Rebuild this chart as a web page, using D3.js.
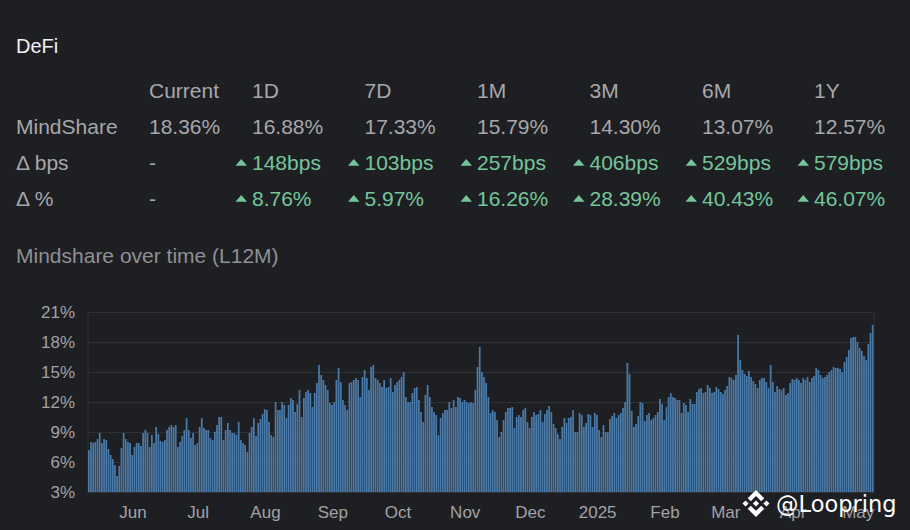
<!DOCTYPE html>
<html>
<head>
<meta charset="utf-8">
<script src="https://cdn.jsdelivr.net/npm/d3@7"></script>
<style>
  html, body { margin: 0; padding: 0; background: #1e1f23; }
  svg { display: block; font-family: "Liberation Sans", Arial, sans-serif; }
</style>
</head>
<body>
<svg></svg>
<script>
// summary table
const periods   = ["Current", "1D", "7D", "1M", "3M", "6M", "1Y"];
const mindshare = [18.36, 16.88, 17.33, 15.79, 14.30, 13.07, 12.57];
const deltaBps  = [null, 148, 103, 257, 406, 529, 579];
const deltaPct  = [null, 8.76, 5.97, 16.26, 28.39, 40.43, 46.07];

// daily mindshare (%), first day 2024-05-12
const firstDay = "2024-05-12";
const may24 = [7.2, 8.0, 7.9, 8.0, 8.3, 8.9, 7.9, 8.3, 8.2, 7.3, 6.7, 6.3, 5.7, 4.6, 5.6, 7.4, 8.9, 8.3, 8.0, 7.9];
const jun24 = [6.7, 7.5, 7.9, 7.9, 7.6, 8.9, 9.2, 8.9, 7.5, 8.7, 7.9, 9.5, 8.8, 8.1, 8.0, 8.2, 9.2, 9.5, 9.7, 9.5,
               9.7, 7.5, 8.0, 8.6, 9.2, 10.4, 9.2, 8.4, 8.9, 7.7];
const jul24 = [7.9, 9.5, 10.4, 9.4, 9.2, 9.2, 8.4, 8.2, 9.0, 9.7, 10.5, 10.5, 8.2, 9.2, 9.9, 9.2, 8.9, 8.9, 8.7, 10.0,
               8.2, 7.9, 7.7, 7.0, 8.9, 9.5, 10.4, 8.6, 9.9, 10.3, 10.8];
const aug24 = [11.3, 11.2, 10.0, 8.7, 8.5, 12.0, 11.2, 11.2, 12.0, 11.7, 10.4, 11.7, 12.4, 12.2, 11.0, 11.8, 13.2, 10.5, 12.4, 13.0,
               13.2, 12.9, 11.5, 12.9, 13.9, 15.7, 14.7, 14.2, 13.7, 13.2, 11.9];
const sep24 = [11.7, 12.0, 14.2, 15.4, 14.0, 12.2, 11.7, 11.2, 13.9, 14.0, 14.2, 14.4, 14.2, 12.5, 14.5, 15.2, 14.4, 13.2, 15.5, 15.7,
               14.4, 14.2, 13.9, 13.5, 14.2, 13.4, 13.5, 14.4, 13.0, 13.7];
const oct24 = [14.0, 14.2, 14.5, 15.0, 12.5, 12.0, 12.0, 12.9, 13.4, 13.5, 12.2, 11.0, 10.0, 12.7, 13.7, 12.5, 11.5, 11.0, 10.7, 8.7,
               10.4, 10.9, 11.2, 11.2, 12.0, 11.4, 12.2, 11.5, 12.5, 12.4, 12.0];
const nov24 = [12.2, 12.0, 11.9, 12.0, 11.9, 13.2, 15.5, 17.5, 15.0, 14.5, 13.9, 12.5, 10.9, 11.2, 11.0, 10.2, 8.5, 9.0, 10.2, 11.0,
               11.4, 11.4, 11.5, 9.4, 10.5, 10.7, 10.5, 11.2, 11.4, 10.0];
const dec24 = [9.4, 10.5, 11.0, 10.7, 10.8, 11.2, 10.0, 10.8, 11.2, 11.6, 11.0, 9.8, 9.4, 8.8, 8.3, 9.5, 10.4, 9.9, 10.4, 10.5,
               11.2, 9.0, 9.0, 10.9, 10.7, 9.5, 9.9, 10.8, 10.7, 9.5, 10.9];
const jan25 = [10.7, 9.2, 8.5, 9.7, 9.0, 9.0, 10.3, 10.6, 10.9, 10.4, 10.7, 10.9, 11.4, 12.0, 15.9, 14.8, 11.1, 9.5, 9.8, 10.6,
               12.0, 11.9, 10.1, 10.7, 10.9, 10.2, 10.4, 10.7, 11.0, 12.3, 11.8];
const feb25 = [10.2, 11.5, 12.5, 12.9, 12.5, 12.4, 12.2, 12.2, 10.9, 11.9, 11.7, 11.0, 12.3, 11.8, 11.8, 13.0, 13.3, 13.4, 12.9, 13.0,
               13.7, 13.4, 12.9, 13.0, 13.5, 13.3, 13.0, 12.8];
const mar25 = [13.2, 13.6, 14.5, 14.4, 14.2, 14.7, 18.7, 16.2, 15.2, 14.8, 14.6, 15.1, 14.5, 14.1, 13.8, 13.4, 14.2, 14.4, 14.4, 14.0,
               13.4, 15.7, 14.0, 13.0, 13.6, 13.3, 13.2, 13.4, 12.7, 12.9, 13.9];
const apr25 = [14.3, 14.2, 14.4, 14.2, 13.9, 14.4, 14.2, 14.5, 14.0, 14.4, 14.6, 15.4, 15.2, 14.7, 14.4, 14.5, 14.7, 15.0, 15.2, 15.5,
               15.4, 15.4, 15.3, 15.0, 16.0, 16.5, 17.2, 18.4, 18.5, 18.5];
const may25 = [18.0, 17.4, 17.1, 16.6, 16.2, 17.8, 18.9, 19.7];

const yTicks = [3, 6, 9, 12, 15, 18, 21];

const W = 910, H = 530;
const svg = d3.select("svg").attr("width", W).attr("height", H);

svg.append("rect").attr("width", W).attr("height", H).attr("fill", "#1e1f23");

// ---- header + table
const grey = "#a7a7ab", green = "#74c69a";

svg.append("text")
  .attr("x", 16).attr("y", 52.5)
  .attr("fill", "#f2f2f2").attr("font-size", 20)
  .text("DeFi");

const colX = [149, 252, 364.5, 477, 589.5, 702, 814];
const rowY = { head: 98.3, ms: 134.3, bps: 170.3, pct: 206.3 };

const rowLabels = [["MindShare", rowY.ms], ["Δ bps", rowY.bps], ["Δ %", rowY.pct]];
svg.selectAll("text.rowlab").data(rowLabels).enter().append("text")
  .attr("class", "rowlab")
  .attr("x", 16).attr("y", d => d[1])
  .attr("fill", grey).attr("font-size", 21)
  .text(d => d[0]);

const table = svg.append("g").attr("font-size", 21);

table.selectAll("text.head").data(periods).enter().append("text")
  .attr("class", "head")
  .attr("x", (d, i) => colX[i]).attr("y", rowY.head)
  .attr("fill", grey)
  .text(d => d);

table.selectAll("text.ms").data(mindshare).enter().append("text")
  .attr("class", "ms")
  .attr("x", (d, i) => colX[i]).attr("y", rowY.ms)
  .attr("fill", grey)
  .text(d => d.toFixed(2) + "%");

function deltaRow(values, y, fmt) {
  const g = table.append("g");
  values.forEach((v, i) => {
    const x = colX[i];
    if (v == null) {
      g.append("text").attr("x", x).attr("y", y).attr("fill", grey).text("-");
      return;
    }
    const base = y - 4.6;
    g.append("path")
      .attr("d", `M${x - 16.5},${base}L${x - 5},${base}L${x - 10.75},${base - 6.6}Z`)
      .attr("fill", green);
    g.append("text").attr("x", x).attr("y", y).attr("fill", green).text(fmt(v));
  });
}
deltaRow(deltaBps, rowY.bps, v => `${v}bps`);
deltaRow(deltaPct, rowY.pct, v => `${v.toFixed(2)}%`);

svg.append("text")
  .attr("x", 16).attr("y", 262.5)
  .attr("fill", "#8f8f94").attr("font-size", 21)
  .text("Mindshare over time (L12M)");

// ---- bar chart
const parse = d3.timeParse("%Y-%m-%d");
const daily = [].concat(may24, jun24, jul24, aug24, sep24, oct24, nov24, dec24, jan25, feb25, mar25, apr25, may25);
const start = parse(firstDay);
const data = daily.map((v, i) => ({ date: d3.timeDay.offset(start, i), value: v }));

const plot = { left: 88, right: 874, top: 312, bottom: 492 };

const x = d3.scaleTime()
  .domain([start, d3.timeDay.offset(start, data.length)])
  .range([plot.left, plot.right]);
const y = d3.scaleLinear()
  .domain([3, 21])
  .range([plot.bottom, plot.top]);

const step = (plot.right - plot.left) / data.length;

const yAxis = d3.axisLeft(y)
  .tickValues(yTicks)
  .tickSize(-(plot.right - plot.left))
  .tickPadding(13)
  .tickFormat(d => d + "%");
const yAxisG = svg.append("g")
  .attr("transform", `translate(${plot.left},0)`)
  .call(yAxis);
yAxisG.select(".domain").remove();
yAxisG.selectAll(".tick line")
  .attr("stroke", "#2f3035")
  .attr("stroke-width", 1);
yAxisG.selectAll(".tick text")
  .attr("fill", "#a2a2a6")
  .attr("font-size", 17)
  .attr("font-family", "Liberation Sans, Arial, sans-serif");

svg.append("line")
  .attr("x1", plot.left).attr("x2", plot.left)
  .attr("y1", plot.top).attr("y2", plot.bottom)
  .attr("stroke", "#2f3035");
svg.append("line")
  .attr("x1", plot.right).attr("x2", plot.right)
  .attr("y1", plot.top).attr("y2", plot.bottom)
  .attr("stroke", "#2f3035");

svg.append("g").selectAll("rect").data(data)
  .enter().append("rect")
    .attr("x", d => x(d.date))
    .attr("y", d => y(d.value))
    .attr("width", step * 0.8)
    .attr("height", d => y(3) - y(d.value))
    .attr("fill", "#4a7aa8");

const months = d3.timeMonth.range(parse("2024-06-01"), parse("2025-05-02"));
const xAxis = d3.axisBottom(x)
  .tickValues(months)
  .tickSize(0)
  .tickPadding(14)
  .tickFormat(d => d.getMonth() === 0 ? d3.timeFormat("%Y")(d) : d3.timeFormat("%b")(d));
const xAxisG = svg.append("g")
  .attr("transform", `translate(${step / 2},${plot.bottom})`)
  .call(xAxis);
xAxisG.select(".domain").remove();
xAxisG.selectAll(".tick text")
  .attr("fill", "#a2a2a6")
  .attr("font-size", 17)
  .attr("font-family", "Liberation Sans, Arial, sans-serif");

// ---- watermark (exchange logo + handle)
const logoPaths = [
  "M38.73,53.2L63.3,28.63L87.9,53.22L102.2,38.92L63.3,0L24.42,38.9Z",
  "M0,63.31L14.3,49.01L28.6,63.31L14.3,77.61Z",
  "M38.73,73.41L63.3,97.98L87.89,73.4L102.2,87.69L63.3,126.61L24.42,87.72Z",
  "M97.99,63.31L112.3,49.01L126.6,63.31L112.3,77.61Z",
  "M77.83,63.3L63.3,48.77L48.78,63.29L63.3,77.82Z"
];
const wm = svg.append("g");
wm.append("g")
  .attr("transform", "translate(742.5,490) scale(0.213)")
  .selectAll("path").data(logoPaths).enter().append("path")
    .attr("d", d => d)
    .attr("fill", "#ffffff");
wm.append("text")
  .attr("x", 776).attr("y", 512)
  .attr("font-family", "DejaVu Sans, sans-serif")
  .attr("font-size", 22.5)
  .attr("fill", "#ffffff")
  .text("@Loopring");
</script>
</body>
</html>
